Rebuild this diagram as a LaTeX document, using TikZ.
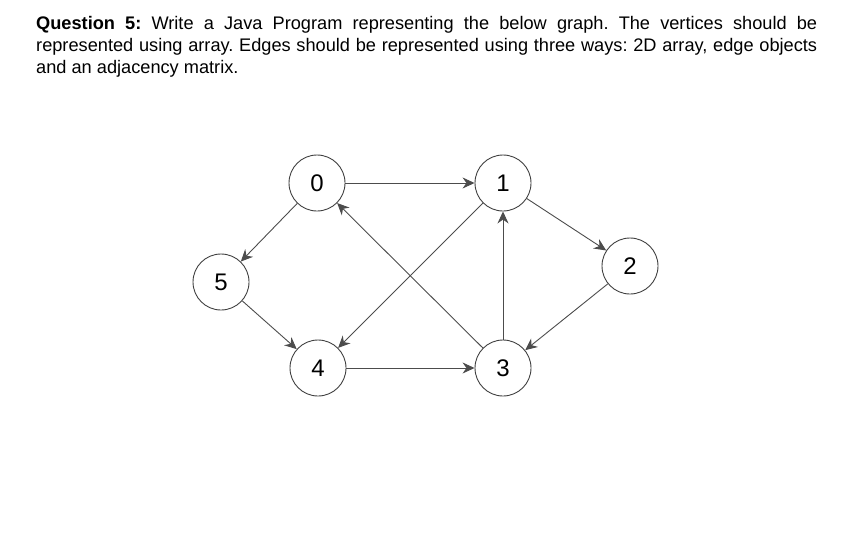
\documentclass[tikz,border=0pt]{standalone}
\usepackage{fontspec}
\setmainfont{Liberation Sans}
\usetikzlibrary{arrows.meta}
\begin{document}
\begin{tikzpicture}[x=1pt,y=-1pt,
  vtx/.style={circle,draw=black!75,line width=0.9pt,minimum size=56pt,inner sep=0pt,font=\fontsize{24}{24}\selectfont},
  edge/.style={draw=black!70,line width=0.9pt,-{Stealth[length=12pt,width=11pt]}}]
\useasboundingbox (0,0) rectangle (861,551);
\node[anchor=north west,inner sep=0pt,text width=781pt,align=justify,font=\fontsize{18.2}{22}\selectfont] (q) at (36,16)
{\frenchspacing\hyphenpenalty=10000 \textbf{Question 5:} Write a Java Program representing the below graph. The vertices should be\linebreak represented using array. Edges should be represented using three ways: 2D array, edge objects\linebreak and an adjacency matrix.};
\node[vtx] (n0) at (317,183) {0};
\node[vtx] (n1) at (503,183) {1};
\node[vtx] (n2) at (630,266) {2};
\node[vtx] (n5) at (221,282) {5};
\node[vtx] (n4) at (318,368) {4};
\node[vtx] (n3) at (503,368) {3};
\draw[edge] (n0) -- (n1);
\draw[edge] (n0) -- (n5);
\draw[edge] (n5) -- (n4);
\draw[edge] (n4) -- (n3);
\draw[edge] (n1) -- (n2);
\draw[edge] (n2) -- (n3);
\draw[edge] (n3) -- (n1);
\draw[edge] (n3) -- (n0);
\draw[edge] (n1) -- (n4);
\end{tikzpicture}
\end{document}
